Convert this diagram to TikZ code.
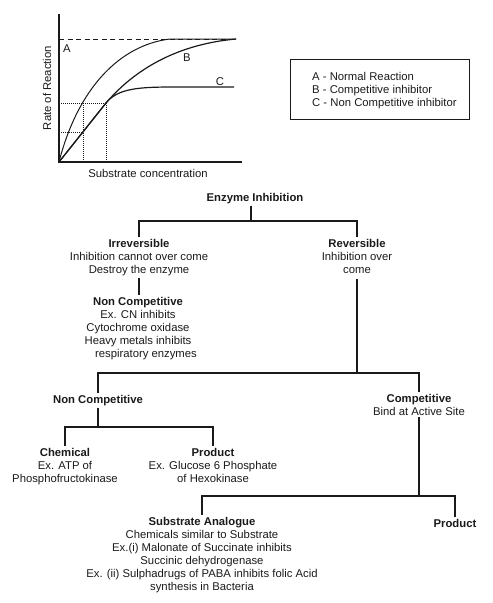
\documentclass[tikz,border=0pt]{standalone}
\usepackage{fontspec}
\setmainfont{Liberation Sans}
\definecolor{ink}{HTML}{1A1A1A}
\begin{document}
\begin{tikzpicture}[x=1pt,y=-1pt,
  txt/.style={font=\fontsize{11.3}{13}\selectfont, text=ink, inner sep=0pt, outer sep=2pt, align=center, anchor=north},
  lbl/.style={font=\fontsize{11.3}{13}\selectfont, text=ink, inner sep=0pt},
  tree/.style={draw=ink, line width=2.6pt, line join=miter},
  axis/.style={draw=ink, line width=1.6pt},
  curve/.style={draw=ink, line width=1pt},
  dotline/.style={draw=ink, line width=0.9pt, dash pattern=on 1pt off 1pt},
  dashline/.style={draw=ink, line width=1pt, dash pattern=on 5pt off 3.5pt}]
\useasboundingbox (0,0) rectangle (493,603);

% ---------- graph ----------
\draw[axis] (59,14) -- (59,162) -- (242,162);
\draw[dashline] (59,39) -- (236,39);
\draw[dotline] (59,103) -- (106,103);
\draw[dotline] (59,132) -- (83,132);
\draw[dotline] (83,103) -- (83,162);
\draw[dotline] (106,103) -- (106,162);
\draw[curve] (59,162) .. controls (78,88) and (120,45) .. (170,39) -- (236,39);
\draw[curve, line width=1.2pt] (59,162) -- (106,103) .. controls (130,75) and (170,45) .. (236,39);
\draw[curve, line width=1.2pt] (59,162) -- (106,103) .. controls (118,88) and (140,87) .. (175,87) -- (234,87);
\node[lbl] (la) at (67,49) {A};
\node[lbl] (lb) at (187,58) {B};
\node[lbl] (lc) at (220,82) {C};
\node[lbl, rotate=90] (ylab) at (47,88) {Rate of Reaction};
\node[lbl] (xlab) at (148,173) {Substrate concentration};

% ---------- legend ----------
\draw[draw=ink, line width=0.8pt] (290,59) rectangle (469,119);
\node[lbl, anchor=north west, align=left] (leg) at (312,72) {A - Normal Reaction\\B - Competitive inhibitor\\C - Non Competitive inhibitor};

% ---------- tree ----------
\node[txt] (ei) at (255,191) {\textbf{Enzyme Inhibition}};
\node[txt] (irr) at (139,237) {\textbf{Irreversible}\\Inhibition cannot over come\\Destroy the enzyme};
\node[txt] (nc1) at (138,295) {\textbf{Non Competitive}\\Ex. CN inhibits\\Cytochrome oxidase\\Heavy metals inhibits\\\hspace*{16pt}respiratory enzymes};
\node[txt] (rev) at (357,237) {\textbf{Reversible}\\Inhibition over\\come};
\node[txt] (nc2) at (98,393) {\textbf{Non Competitive}};
\node[txt] (comp) at (419,392) {\textbf{Competitive}\\Bind at Active Site};
\node[txt] (chem) at (65,446) {\textbf{Chemical}\\Ex. ATP of\\Phosphofructokinase};
\node[txt] (prod1) at (213,446) {\textbf{Product}\\Ex. Glucose 6 Phosphate\\of Hexokinase};
\node[txt] (sa) at (202,515) {\textbf{Substrate Analogue}\\Chemicals similar to Substrate\\Ex.(i) Malonate of Succinate inhibits\\Succinic dehydrogenase\\Ex. (ii) Sulphadrugs of PABA inhibits folic Acid\\synthesis in Bacteria};
\node[txt] (prod2) at (455,517) {\textbf{Product}};

\coordinate (j0) at (251,221);
\coordinate (j1) at (357,373);
\coordinate (j2) at (98,427);
\coordinate (j3) at (419,496);

\draw[tree] (ei.south -| j0) -- (j0);
\draw[tree] (irr.north) |- (j0) -| (rev.north);
\draw[tree] (irr.south) -- (irr.south |- nc1.north);
\draw[tree, shorten <=4pt] (rev.south) -- (j1);
\draw[tree] (nc2.north) |- (j1) -| (comp.north);
\draw[tree] (nc2.south) -- (j2);
\draw[tree] (chem.north) |- (j2) -| (prod1.north);
\draw[tree] (comp.south) -- (j3);
\draw[tree] (sa.north) |- (j3) -| (prod2.north);
\end{tikzpicture}
\end{document}
